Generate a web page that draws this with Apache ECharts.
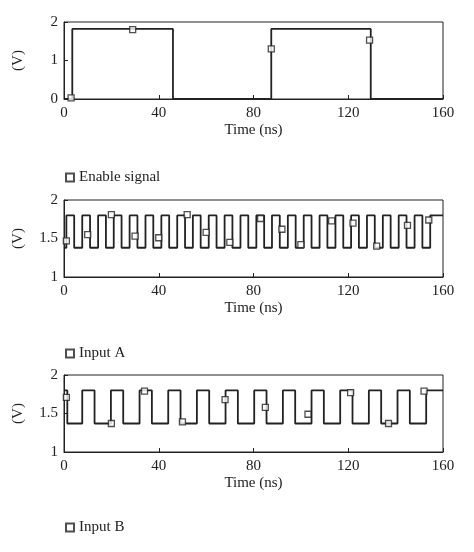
<!DOCTYPE html><html><head><meta charset="utf-8">
<script src="https://cdn.jsdelivr.net/npm/echarts@6/dist/echarts.min.js"></script>
<style>html,body{margin:0;background:#fff}#c{width:474px;height:552px}</style></head><body><div id="c"></div>
<script>
var xTicks=[0,40,80,120,160];
// Enable signal: high intervals [start,end] in ns
var enHigh=[[3.5,46],[87.5,129.5]];
var enLow=0, enHi=1.82;
var enMarks=[[3,0.03],[29,1.8],[87.5,1.3],[129,1.53]];
// Input A high intervals
var aHigh=[[1,4.3],[7.7,11],[14.4,17.7],[21,24.3],[27.7,31],[34.4,37.7],[41.1,44.4],[47.8,51.1],[54.4,57.7],[61.1,64.4],[67.8,71.1],[74.5,77.8],[81.2,84.5],[87.8,91.1],[94.5,97.8],[101.2,104.5],[107.9,111.2],[114.6,117.9],[121.2,124.5],[127.9,131.2],[134.6,137.9],[141.3,144.6],[148,151.3],[154.6,160]];
var aLow=1.38, aHi=1.8;
var aMarks=[[1,1.47],[10,1.55],[20,1.81],[30,1.53],[40,1.51],[52,1.81],[60,1.58],[70,1.45],[83,1.76],[92,1.62],[100,1.42],[113,1.73],[122,1.7],[132,1.4],[145,1.67],[154,1.74]];
// Input B high intervals
var bHigh=[[0,1.4],[7.7,12.9],[19.8,25],[31.9,37.1],[44,49.2],[56.1,61.3],[68.2,73.4],[80.3,85.5],[92.4,97.6],[104.5,109.7],[116.6,121.8],[128.7,133.9],[140.8,146],[152.9,160]];
var bLow=1.37, bHi=1.8;
var bMarks=[[1,1.71],[20,1.37],[34,1.79],[50,1.39],[68,1.68],[85,1.58],[103,1.49],[121,1.77],[137,1.37],[152,1.79]];

function steps(h,lo,hi){var d=[];if(h[0][0]>0)d.push([0,lo]);
 h.forEach(function(iv){d.push([iv[0],lo]);d.push([iv[0],hi]);d.push([iv[1],hi]);if(iv[1]<160)d.push([iv[1],lo]);});
 if(h[h.length-1][1]<160)d.push([160,lo]);if(h[0][0]===0)d.shift(),d.shift(),d.unshift([0,hi]);return d;}
var F='Liberation Serif', C='#222';
var tops=[22,200,375];
var grids=tops.map(function(t){return {left:64,right:31,top:t,height:77,show:true,borderColor:C,borderWidth:1,backgroundColor:'transparent'};});
var xAxes=tops.map(function(t,i){return {type:'value',gridIndex:i,min:0,max:160,interval:40,name:'Time (ns)',nameLocation:'middle',nameGap:24,
 nameTextStyle:{fontFamily:F,fontSize:15,color:C},axisLine:{lineStyle:{color:C}},axisTick:{show:true,inside:true,length:4,lineStyle:{color:C}},
 axisLabel:{fontFamily:F,fontSize:15,color:C,margin:7},splitLine:{show:false}};});
var yr=[[0,2,1],[1,2,0.5],[1,2,0.5]];
var yAxes=yr.map(function(r,i){return {type:'value',gridIndex:i,min:r[0],max:r[1],interval:r[2],name:'(V)',nameLocation:'middle',nameGap:38,nameRotate:90,
 nameTextStyle:{fontFamily:F,fontSize:15,color:C},axisLine:{show:true,lineStyle:{color:C}},axisTick:{show:true,inside:true,length:4,lineStyle:{color:C}},
 axisLabel:{fontFamily:F,fontSize:15,color:C,margin:6},splitLine:{show:false}};});
var names=['Enable signal','Input A','Input B'];
var lines=[steps(enHigh,enLow,enHi),steps(aHigh,aLow,aHi),steps(bHigh,bLow,bHi)];
var marks=[enMarks,aMarks,bMarks];
var series=[];
for(var i=0;i<3;i++){
 series.push({type:'line',xAxisIndex:i,yAxisIndex:i,data:lines[i],showSymbol:false,lineStyle:{color:C,width:1.8},silent:true});
 series.push({type:'scatter',name:names[i],xAxisIndex:i,yAxisIndex:i,data:marks[i],symbol:'rect',symbolSize:6,itemStyle:{color:'#fff',borderColor:C,borderWidth:1.3},z:5});
}
var legTops=[165,341,515];
var legends=names.map(function(n,i){return {data:[n],left:60,top:legTops[i],itemWidth:8,itemHeight:8,itemGap:8,
 textStyle:{fontFamily:F,fontSize:15,color:C}};});
var ch=echarts.init(document.getElementById('c'));
ch.setOption({animation:false,grid:grids,xAxis:xAxes,yAxis:yAxes,series:series,legend:legends});
</script></body></html>
